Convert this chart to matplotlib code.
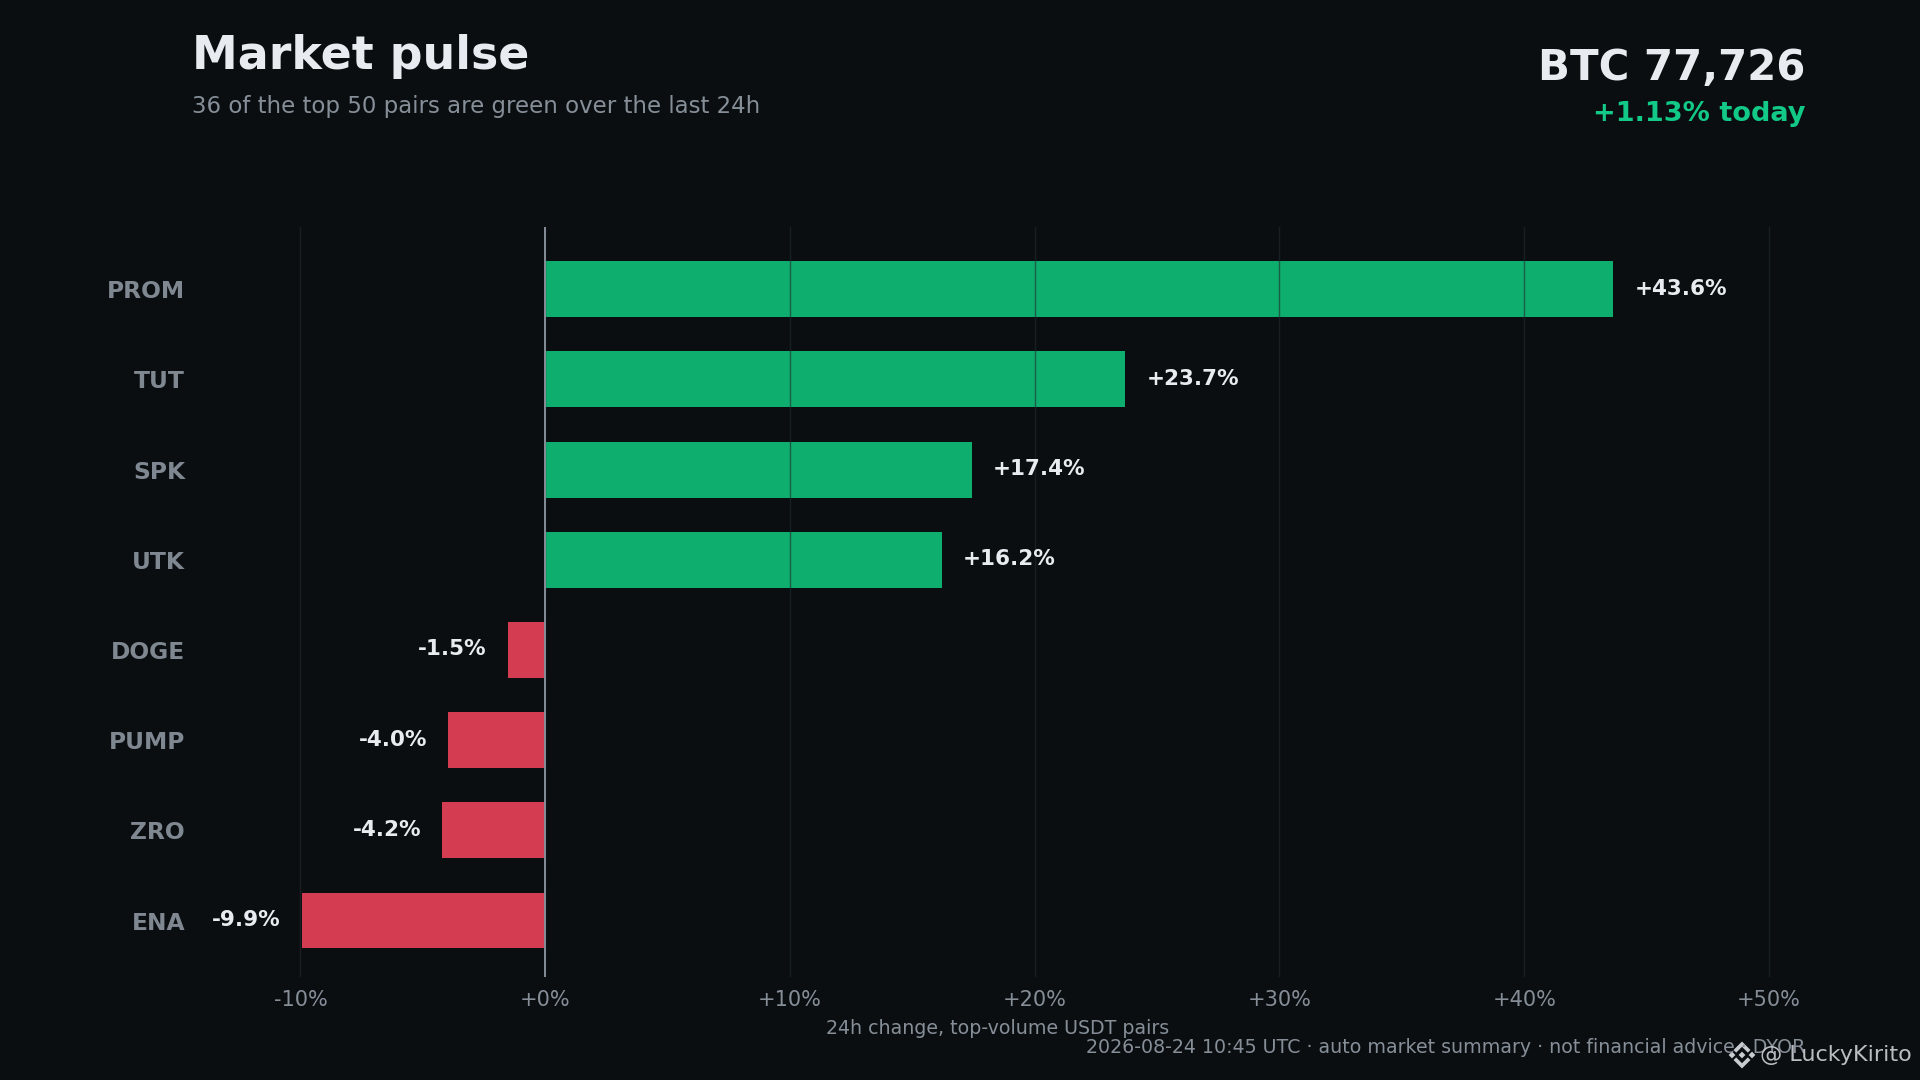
import matplotlib
matplotlib.use("Agg")
import matplotlib.pyplot as plt
from matplotlib.patches import Polygon

symbols = ["PROM", "TUT", "SPK", "UTK", "DOGE", "PUMP", "ZRO", "ENA"]
changes = [43.64, 23.7, 17.44, 16.2, -1.54, -3.96, -4.2, -9.94]
xticks = [-10, 0, 10, 20, 30, 40, 50]
xticklabels = ["-10%", "+0%", "+10%", "+20%", "+30%", "+40%", "+50%"]

BG = "#0a0e11"
GREEN = "#0eae6f"
RED = "#d43d51"
MUTED = "#868e98"
LIGHT = "#e8ebef"
W, H = 1920, 1080

plt.rcParams["font.family"] = ["DejaVu Sans"]
fig = plt.figure(figsize=(19.2, 10.8), dpi=100, facecolor=BG)
L, R, T, B = 192, 1805, 227, 977
ax = fig.add_axes([L / W, 1 - B / H, (R - L) / W, (B - T) / H], facecolor=BG)

colors = [GREEN if v >= 0 else RED for v in changes]
ypos = list(range(len(symbols)))
ax.grid(axis="x", color="#23292d", alpha=0.6, lw=1.0, zorder=3)
ax.set_axisbelow(False)
ax.barh(ypos, changes, height=0.62, color=colors, zorder=2)
ax.axvline(0, color="#868e98", lw=1.4, zorder=4)
ax.set_xlim(-14.43, 51.47)
ax.set_ylim(7.626, -0.689)
for s in ax.spines.values():
    s.set_visible(False)
ax.set_xticks(xticks, xticklabels)
ax.set_yticks(ypos, symbols)
ax.tick_params(axis="x", length=0, pad=9.5, labelsize=15, labelcolor=MUTED)
ax.tick_params(axis="y", length=0, pad=5, labelsize=16.8, labelcolor="#7f8791")
for t in ax.get_yticklabels():
    t.set_fontweight("bold")
for y, v in zip(ypos, changes):
    off = 15.1 if v >= 0 else -15.1
    ax.annotate(f"{v:+.1f}%", (v, y), xytext=(off, 0.4), textcoords="offset points",
                ha="left" if v >= 0 else "right", va="center",
                color=LIGHT, fontsize=15.5, fontweight="bold", zorder=5)

def ft(x, y, s, **kw):
    fig.text(x / W, 1 - y / H, s, **kw)

ft(192, 56.5, "Market pulse", color=LIGHT, fontsize=33, fontweight="bold", va="center")
ft(192, 106, "36 of the top 50 pairs are green over the last 24h", color=MUTED, fontsize=16.5, va="center")
ft(1805, 68, "BTC 77,726", color=LIGHT, fontsize=30.2, fontweight="bold", ha="right", va="center")
ft(1805, 114, "+1.13% today", color="#12c987", fontsize=19.5, fontweight="bold", ha="right", va="center")
ft(998, 1028, "24h change, top-volume USDT pairs", color=MUTED, fontsize=13.7, ha="center", va="center")
ft(1805, 1047.5, "2026-08-24 10:45 UTC · auto market summary · not financial advice · DYOR", color=MUTED, fontsize=13.7, ha="right", va="center")
ft(1760, 1055, "@ LuckyKirito", color="#c4c8cc", fontsize=16, ha="left", va="center", alpha=0.95)

# Watermark logo, pixel offsets from its centre
cx, cy = 1742, 1055
ICON = "#c8ccd0"
def poly(pts):
    fig.add_artist(Polygon([((cx + x) / W, 1 - (cy + y) / H) for x, y in pts], closed=True,
                           transform=fig.transFigure, facecolor=ICON, edgecolor="none"))
def diamond(dx, r):
    poly([(dx, -r), (dx + r, 0), (dx, r), (dx - r, 0)])
for dx in (-10, 0, 10):
    diamond(dx, 3.4)
for s in (-1, 1):
    poly([(0, s * 13.5), (8.5, s * 5), (5.8, s * 2.4), (0, s * 8.2), (-5.8, s * 2.4), (-8.5, s * 5)])

fig.savefig("out.png", dpi=100, facecolor=BG)
